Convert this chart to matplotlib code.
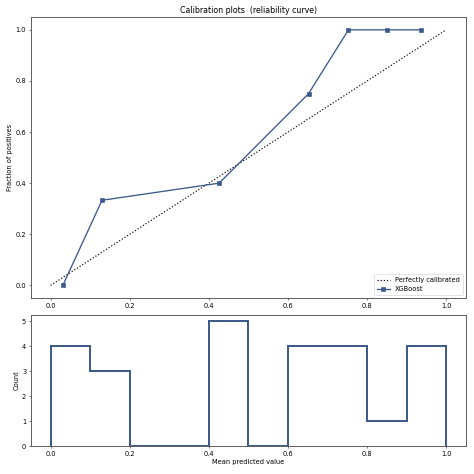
import numpy as np
from matplotlib import pyplot as plt

# Datos de la curva de calibración
mean_predicted = [0.031, 0.130, 0.426, 0.652, 0.753, 0.851, 0.937]
fraction_pos = [0.0, 0.333, 0.4, 0.75, 1.0, 1.0, 1.0]

# Conteos del histograma (10 bins entre 0 y 1)
bin_edges = np.linspace(0.0, 1.0, 11)
counts = [4, 3, 0, 0, 5, 0, 4, 4, 1, 4]

color = "#3b5a8a"

fig = plt.figure(figsize=(10, 10), dpi=47.4)
ax1 = fig.add_axes([0.065, 0.371, 0.918, 0.593])
ax2 = fig.add_axes([0.065, 0.059, 0.918, 0.276])

ax1.plot([0, 1], [0, 1], "k:", lw=1.8, label="Perfectly calibrated")
ax1.plot(mean_predicted, fraction_pos, "s-", color=color, lw=2, ms=7, label="XGBoost")
ax1.set_ylabel("Fraction of positives")
ax1.set_ylim([-0.05, 1.05])
ax1.set_xlim([-0.05, 1.05])
ax1.legend(loc="lower right")
ax1.set_title("Calibration plots  (reliability curve)")

ax2.hist(bin_edges[:-1], bins=bin_edges, weights=counts, histtype="step", lw=3, color=color)
ax2.set_xlim([-0.05, 1.05])
ax2.set_xlabel("Mean predicted value")
ax2.set_ylabel("Count")

for ax in (ax1, ax2):
    for s in ax.spines.values():
        s.set_linewidth(1.4)
        s.set_edgecolor("#555555")

plt.savefig("out.png", dpi=47.4)
